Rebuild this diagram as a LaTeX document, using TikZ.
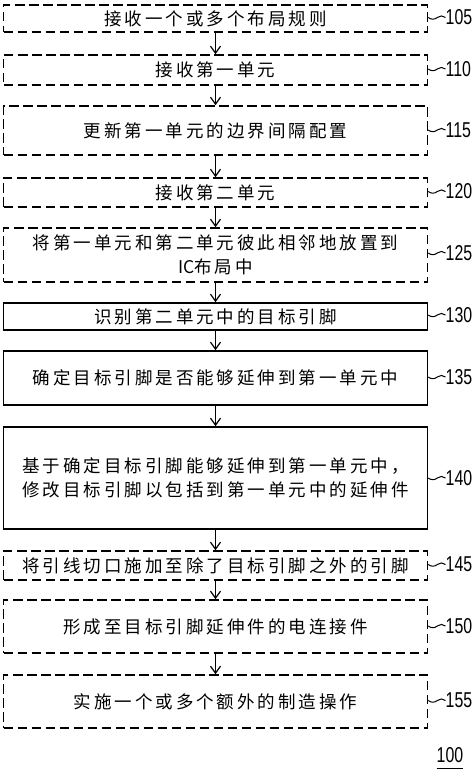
\documentclass[tikz,border=0pt]{standalone}
\usepackage{fontspec}
\usetikzlibrary{arrows.meta}
\newfontfamily\cjkf{Noto Sans CJK SC}[LetterSpace=17]
\newfontfamily\cjkn{Noto Sans CJK SC}
\newfontfamily\numf{Liberation Sans}[FakeStretch=0.74]
\begin{document}
\begin{tikzpicture}[x=1pt,y=-1pt,
  box/.style={draw=black, line width=1.6pt, minimum width=424pt, inner sep=0pt,
    text=black, font=\cjkf\fontsize{17.5}{24.5}\selectfont, align=center},
  dbox/.style={box, dash pattern=on 9.5pt off 4.5pt},
  lbl/.style={font=\numf\fontsize{21.5}{21.5}\selectfont, anchor=west, inner sep=0pt, text=black},
  arr/.style={-{Straight Barb[length=7pt,width=10pt,line width=1.2pt]}, line width=1.4pt},
  sq/.style={line width=1pt}]
\useasboundingbox (0,0) rectangle (474,773);
\fill[white] (0,0) rectangle (474,773);

\node[dbox, minimum height=27pt] (b105) at (215.5,18.5) {接收一个或多个布局规则};
\node[dbox, minimum height=30pt] (b110) at (215.5,70) {接收第一单元};
\node[dbox, minimum height=49pt] (b115) at (215.5,130.5) {更新第一单元的边界间隔配置};
\node[dbox, minimum height=29pt] (b120) at (215.5,192.5) {接收第二单元};
\node[dbox, minimum height=54pt] (b125) at (215.5,255) {将第一单元和第二单元彼此相邻地放置到\\{\cjkn IC}布局中};
\node[box, minimum height=27pt] (b130) at (215.5,316.5) {识别第二单元中的目标引脚};
\node[box, minimum height=54pt] (b135) at (215.5,378) {确定目标引脚是否能够延伸到第一单元中};
\node[box, minimum height=102pt] (b140) at (215.5,478) {基于确定目标引脚能够延伸到第一单元中，\\修改目标引脚以包括到第一单元中的延伸件};
\node[dbox, minimum height=29pt] (b145) at (215.5,565.5) {将引线切口施加至除了目标引脚之外的引脚};
\node[dbox, minimum height=53pt] (b150) at (215.5,626.5) {形成至目标引脚延伸件的电连接件};
\node[dbox, minimum height=53pt] (b155) at (215.5,701.5) {实施一个或多个额外的制造操作};

\foreach \a/\b in {b105/b110,b110/b115,b115/b120,b120/b125,b125/b130,b130/b135,b135/b140,b140/b145,b145/b150,b150/b155}
  \draw[arr] (\a.south) -- (\b.north);

\foreach \n/\y in {105/17.5,110/69,115/130,120/191.5,125/253,130/315,135/377,140/478,145/564.5,150/626,155/700.5}{
  \node[lbl] (l\n) at (445.5,\y) {\n};
  \draw[sq] (b\n.east |- l\n.west) to[out=-40,in=-140] ++(9,0) to[out=40,in=140] (l\n.west);
}

\node[lbl, anchor=center] (l100) at (450,755) {100};
\draw[line width=1.2pt] (l100.south west) ++(0,6) coordinate (u1) -- (u1 -| l100.south east);
\end{tikzpicture}
\end{document}
